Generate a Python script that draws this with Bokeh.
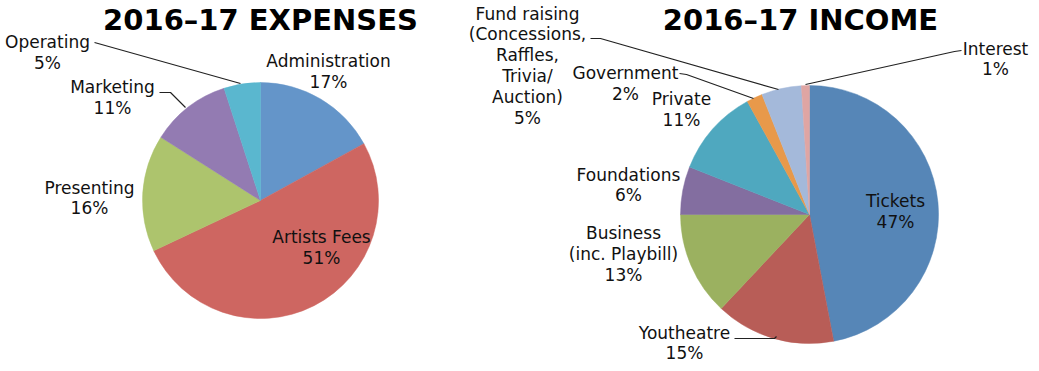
import numpy as np
from bokeh.plotting import figure
from bokeh.models import Range1d
from bokeh.core.properties import value
from bokeh.embed import file_html
from bokeh.resources import INLINE

# ---------------- data ----------------
exp_title = "2016\u201317 EXPENSES"
exp_cats = ["Administration", "Artists Fees", "Presenting", "Marketing", "Operating"]
exp_vals = [17, 51, 16, 11, 5]
exp_colors = ["#6495C9", "#CE6661", "#ADC46D", "#937BB2", "#5AB7CF"]

inc_title = "2016\u201317 INCOME"
inc_cats = ["Tickets", "Youtheatre", "Business\n(inc. Playbill)", "Foundations", "Private",
            "Government", "Fund raising\n(Concessions,\nRaffles,\nTrivia/\nAuction)", "Interest"]
inc_vals = [47, 15, 13, 6, 11, 2, 5, 1]
inc_colors = ["#5686B7", "#B85D57", "#9BB160", "#836EA0", "#4FA8BF", "#E8994A", "#A4B9DA", "#DFA5A3"]

# ---------------- layout (image pixel coordinates) ----------------
H = 371
FW, FH = 1031, 363
exp_center, exp_r = (260, 200), 118
inc_center, inc_r = (809, 214), 129
exp_label_pos = [(328, 71), (321, 247), (89, 197.5), (112, 97), (47, 52)]
inc_label_pos = [(895, 211), (684, 342.5), (623, 253.5), (628, 184.5), (681, 109),
                 (625, 83), (527, 65), (995, 58.5)]
leaders = [
    [(94, 42), (240, 83)],                      # Operating
    [(159, 92), (170, 92), (185, 107)],         # Marketing
    [(590, 38), (600, 38), (778, 89)],          # Fund raising
    [(679, 73), (686, 74), (753, 98)],          # Government
    [(961, 50), (954, 51), (805, 84)],          # Interest
    [(734, 338), (774, 338), (776, 336)],       # Youtheatre
]
LH = 20.8
FONT = "DejaVu Sans"


def Y(y):
    return H - y


p = figure(width=FW, height=FH, x_range=Range1d(0, FW), y_range=Range1d(Y(FH), Y(0)),
           output_backend="svg", toolbar_location=None, min_border=0,
           x_axis_type=None, y_axis_type=None)
p.grid.visible = False
p.outline_line_color = None
p.background_fill_color = "white"
p.border_fill_color = "white"


def pie(center, r, vals, colors):
    v = np.array(vals, dtype=float)
    frac = v / v.sum()
    cum = np.concatenate([[0], np.cumsum(frac)])
    starts = np.pi / 2 - 2 * np.pi * cum[:-1]
    ends = np.pi / 2 - 2 * np.pi * cum[1:]
    p.wedge(x=[center[0]] * len(v), y=[Y(center[1])] * len(v), radius=r,
            start_angle=list(starts), end_angle=list(ends), direction="clock",
            fill_color=colors, line_color=colors, line_width=0.5)


def labels(cats, vals, pos):
    xs, ys, ts = [], [], []
    for c, v, (x, y) in zip(cats, vals, pos):
        lines = c.split("\n") + [f"{v}%"]
        n = len(lines)
        for i, t in enumerate(lines):
            xs.append(x)
            ys.append(Y(y + (i - (n - 1) / 2) * LH))
            ts.append(t)
    p.text(x=xs, y=ys, text=ts, text_align="center", text_baseline="middle",
           text_font=value(FONT), text_font_size="17px", text_color="#111111")


pie(exp_center, exp_r, exp_vals, exp_colors)
pie(inc_center, inc_r, inc_vals, inc_colors)

for pts in leaders:
    p.line(x=[a for a, b in pts], y=[Y(b) for a, b in pts], line_color="#222222", line_width=1.2)

labels(exp_cats, exp_vals, exp_label_pos)
labels(inc_cats, inc_vals, inc_label_pos)

p.text(x=[260, 800], y=[Y(19), Y(19)], text=[exp_title, inc_title], text_align="center",
       text_baseline="middle", text_font=value(FONT), text_font_style="bold",
       text_font_size="29px", text_color="#000000")

open("out.html", "w").write(file_html(p, INLINE))
